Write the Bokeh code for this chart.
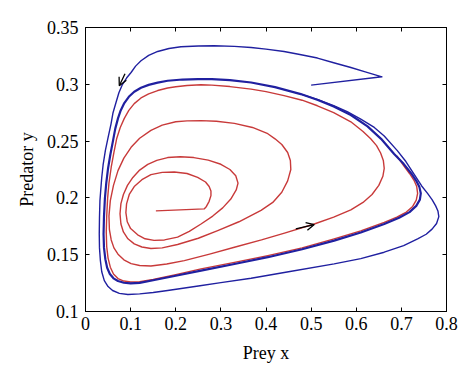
import math
from bokeh.plotting import figure
from bokeh.models import (Range1d, LinearAxis, FixedTicker, CustomJSTickFormatter,
                          Arrow, OpenHead)
from bokeh.embed import file_html
from bokeh.resources import INLINE

# ---------------- data ----------------
x_ticks = [0, 0.1, 0.2, 0.3, 0.4, 0.5, 0.6, 0.7, 0.8]
y_ticks = [0.1, 0.15, 0.2, 0.25, 0.3, 0.35]

# red trajectory: spirals outward from (0.16, 0.19) towards the limit cycle
red_pts = [
    (0.156, 0.1886), (0.263, 0.1903), (0.268, 0.1925), (0.274, 0.1970), (0.278, 0.2020),
    (0.278, 0.2060), (0.274, 0.2100), (0.266, 0.2140), (0.2485, 0.2180), (0.225, 0.2215),
    (0.1967, 0.2228), (0.170, 0.2225), (0.145, 0.2205), (0.125, 0.2160), (0.108, 0.2100),
    (0.097, 0.2030), (0.091, 0.1947), (0.0895, 0.1870), (0.0925, 0.1790), (0.100, 0.1730),
    (0.1156, 0.1675), (0.132, 0.1640), (0.152, 0.1626), (0.175, 0.1630), (0.204, 0.1655),
    (0.230, 0.1705), (0.256, 0.1770), (0.282, 0.1840), (0.304, 0.1912), (0.322, 0.1990),
    (0.334, 0.2070), (0.338, 0.2130), (0.333, 0.2195), (0.320, 0.2250), (0.300, 0.2296),
    (0.272, 0.2332), (0.240, 0.2355), (0.210, 0.2362), (0.182, 0.2355), (0.158, 0.2330),
    (0.138, 0.2295), (0.120, 0.2245), (0.105, 0.2180), (0.093, 0.2110), (0.084, 0.2030),
    (0.0785, 0.1950), (0.0765, 0.1860), (0.0785, 0.1770), (0.084, 0.1700), (0.094, 0.1640),
    (0.108, 0.1595), (0.125, 0.1568), (0.145, 0.1555), (0.170, 0.1560), (0.204, 0.1590),
    (0.250, 0.1645), (0.293, 0.1712), (0.340, 0.1790), (0.389, 0.1890), (0.415, 0.1960),
    (0.435, 0.2050), (0.448, 0.2150), (0.455, 0.2250), (0.454, 0.2330), (0.448, 0.2400),
    (0.435, 0.2470), (0.420, 0.2520), (0.404, 0.2565), (0.370, 0.2620), (0.330, 0.2656),
    (0.290, 0.2675), (0.256, 0.2680), (0.225, 0.2678), (0.200, 0.2670), (0.170, 0.2640),
    (0.145, 0.2595), (0.120, 0.2525), (0.101, 0.2445), (0.085, 0.2350), (0.072, 0.2240),
    (0.062, 0.2110), (0.055, 0.1976), (0.052, 0.1840), (0.053, 0.1720), (0.057, 0.1630),
    (0.063, 0.1560), (0.072, 0.1505), (0.085, 0.1455), (0.101, 0.1422), (0.120, 0.1405),
    (0.145, 0.1400), (0.180, 0.1418), (0.219, 0.1448), (0.275, 0.1505), (0.330, 0.1566),
    (0.390, 0.1630), (0.441, 0.1690), (0.507, 0.1770), (0.550, 0.1830), (0.588, 0.1895),
    (0.615, 0.1960), (0.635, 0.2030), (0.650, 0.2110), (0.659, 0.2190), (0.662, 0.2260),
    (0.660, 0.2330), (0.654, 0.2395), (0.645, 0.2460), (0.632, 0.2520), (0.615, 0.2585),
    (0.588, 0.2670), (0.550, 0.2750), (0.514, 0.2811), (0.480, 0.2860), (0.440, 0.2900),
    (0.400, 0.2935), (0.367, 0.2958), (0.320, 0.2980), (0.280, 0.2993), (0.256, 0.2996),
    (0.225, 0.2990), (0.200, 0.2978), (0.182, 0.2967), (0.160, 0.2945), (0.140, 0.2915),
    (0.123, 0.2880), (0.108, 0.2830), (0.096, 0.2770), (0.086, 0.2700), (0.077, 0.2620),
    (0.069, 0.2520), (0.063, 0.2400), (0.057, 0.2270), (0.052, 0.2130), (0.049, 0.1996),
    (0.047, 0.1840), (0.046, 0.1700), (0.047, 0.1570), (0.050, 0.1470), (0.055, 0.1390),
    (0.062, 0.1330), (0.072, 0.1290), (0.085, 0.1268), (0.100, 0.1260), (0.120, 0.1262),
    (0.150, 0.1282), (0.200, 0.1325), (0.256, 0.1375), (0.330, 0.1432), (0.404, 0.1492),
    (0.480, 0.1560), (0.551, 0.1639), (0.610, 0.1710), (0.662, 0.1785), (0.690, 0.1830),
    (0.711, 0.1875), (0.725, 0.1925), (0.733, 0.1980), (0.736, 0.2040), (0.734, 0.2100),
    (0.728, 0.2155), (0.718, 0.2215), (0.705, 0.2285), (0.690, 0.2370),
]
red_x = [a for a, b in red_pts]
red_y = [b for a, b in red_pts]

# blue trajectory: starts at (0.5, 0.3), large excursion, then joins the cycle
blue_pts = [
    (0.500, 0.2993), (0.657, 0.3066), (0.620, 0.3110), (0.588, 0.3148), (0.550, 0.3190),
    (0.514, 0.3231), (0.475, 0.3262), (0.440, 0.3289), (0.400, 0.3310), (0.367, 0.3324),
    (0.330, 0.3334), (0.285, 0.3339), (0.250, 0.3337), (0.2115, 0.3330), (0.185, 0.3315),
    (0.160, 0.3289), (0.140, 0.3255), (0.123, 0.3207), (0.111, 0.3160), (0.101, 0.3104),
    (0.091, 0.3055), (0.082, 0.3000), (0.074, 0.2925), (0.0676, 0.2840), (0.061, 0.2750),
    (0.0565, 0.2650), (0.050, 0.2530), (0.044, 0.2416), (0.039, 0.2290), (0.036, 0.2180),
    (0.034, 0.2080), (0.032, 0.1976), (0.031, 0.1830), (0.0305, 0.1683), (0.031, 0.1560),
    (0.033, 0.1448), (0.036, 0.1350), (0.0417, 0.1272), (0.050, 0.1220), (0.060, 0.1185),
    (0.075, 0.1160), (0.094, 0.1150), (0.120, 0.1155), (0.150, 0.1167), (0.182, 0.1185),
    (0.250, 0.1225), (0.300, 0.1254), (0.367, 0.1293), (0.450, 0.1350), (0.551, 0.1419),
    (0.610, 0.1465), (0.662, 0.1522), (0.705, 0.1580), (0.736, 0.1639), (0.755, 0.1680),
    (0.768, 0.1725), (0.778, 0.1775), (0.783, 0.1835), (0.781, 0.1885), (0.776, 0.1930),
    (0.768, 0.1985), (0.758, 0.2040), (0.745, 0.2105), (0.728, 0.2210), (0.710, 0.2320),
    (0.691, 0.2416), (0.662, 0.2545), (0.640, 0.2620), (0.610, 0.2694), (0.580, 0.2760),
    (0.550, 0.2812), (0.515, 0.2865), (0.477, 0.2914),
]
blue_x = [a for a, b in blue_pts]
blue_y = [b for a, b in blue_pts]

# limit cycle traced by the blue trajectory afterwards
cycle_pts = [
    (0.477, 0.2914), (0.420, 0.2975), (0.367, 0.3016), (0.320, 0.3036), (0.280, 0.3045),
    (0.249, 0.3046), (0.215, 0.3042), (0.182, 0.3031), (0.160, 0.3015), (0.140, 0.2995),
    (0.123, 0.2970), (0.108, 0.2935), (0.096, 0.2890), (0.086, 0.2835), (0.078, 0.2770),
    (0.072, 0.2700), (0.066, 0.2610), (0.061, 0.2504), (0.055, 0.2380), (0.050, 0.2260),
    (0.046, 0.2130), (0.043, 0.1996), (0.041, 0.1840), (0.040, 0.1683), (0.041, 0.1560),
    (0.044, 0.1460), (0.048, 0.1385), (0.054, 0.1330), (0.062, 0.1292), (0.072, 0.1268),
    (0.085, 0.1253), (0.100, 0.1248), (0.120, 0.1252), (0.150, 0.1275), (0.200, 0.1315),
    (0.256, 0.1360), (0.330, 0.1418), (0.404, 0.1478), (0.480, 0.1548), (0.551, 0.1624),
    (0.610, 0.1695), (0.662, 0.1771), (0.695, 0.1825), (0.718, 0.1875), (0.733, 0.1930),
    (0.741, 0.1985), (0.743, 0.2040), (0.740, 0.2095), (0.733, 0.2150), (0.722, 0.2215),
    (0.705, 0.2300), (0.684, 0.2386), (0.655, 0.2520), (0.625, 0.2630), (0.588, 0.2730),
    (0.550, 0.2805), (0.515, 0.2862), (0.477, 0.2914),
]
cycle_x = [a for a, b in cycle_pts]
cycle_y = [b for a, b in cycle_pts]

# direction arrows (start -> end)
arrow_x0 = [0.466, 0.0875]
arrow_y0 = [0.1727, 0.3093]
arrow_x1 = [0.507, 0.0749]
arrow_y1 = [0.1765, 0.2987]

# ---------------- figure ----------------
FONT = "Liberation Serif"
RED = "#c83a3a"
BLUE = "#2020a0"

p = figure(width=466, height=372, output_backend="svg", toolbar_location=None,
           x_range=Range1d(0, 0.8), y_range=Range1d(0.1, 0.35),
           min_border_left=85, min_border_right=20, min_border_top=27,
           min_border_bottom=61, background_fill_color="white",
           border_fill_color="white")
p.grid.visible = False
p.outline_line_color = "black"
p.outline_line_width = 1

fmt = CustomJSTickFormatter(code="""
var s = tick.toFixed(2);
s = s.replace(/0+$/, '');
s = s.replace(/\\.$/, '');
return s;
""")
blank = CustomJSTickFormatter(code="return '';")

def style(ax, ticks, formatter):
    ax.ticker = FixedTicker(ticks=ticks)
    ax.formatter = formatter
    ax.major_tick_in = 4
    ax.major_tick_out = 0
    ax.minor_tick_in = 0
    ax.minor_tick_out = 0
    ax.axis_line_color = "black"
    ax.major_tick_line_color = "black"
    ax.major_label_text_font = FONT
    ax.major_label_text_font_size = "18px"
    ax.major_label_text_color = "black"
    ax.major_label_standoff = 7
    ax.axis_label_text_font = FONT
    ax.axis_label_text_font_size = "18px"
    ax.axis_label_text_font_style = "normal"
    ax.axis_label_text_color = "black"

style(p.xaxis[0], x_ticks, fmt)
style(p.yaxis[0], y_ticks, fmt)
p.xaxis[0].major_label_standoff = 5
p.xaxis[0].axis_label = "Prey x"
p.xaxis[0].axis_label_standoff = 10
p.yaxis[0].axis_label = "Predator y"
p.yaxis[0].axis_label_standoff = 7

top = LinearAxis()
style(top, x_ticks, blank)
top.major_label_text_font_size = "1px"
right = LinearAxis()
style(right, y_ticks, blank)
right.major_label_text_font_size = "1px"
p.add_layout(top, "above")
p.add_layout(right, "right")

# curves
p.line(red_x, red_y, line_color=RED, line_width=1.4, line_join="round")
p.line(blue_x, blue_y, line_color=BLUE, line_width=1.4, line_join="round")
p.line(cycle_x, cycle_y, line_color=BLUE, line_width=2.2, line_join="round")

for i in range(len(arrow_x0)):
    p.add_layout(Arrow(x_start=arrow_x0[i], y_start=arrow_y0[i],
                       x_end=arrow_x1[i], y_end=arrow_y1[i],
                       line_color="black", line_width=1.3,
                       end=OpenHead(size=8, line_color="black", line_width=1.3)))

open("out.html", "w").write(file_html(p, INLINE))
